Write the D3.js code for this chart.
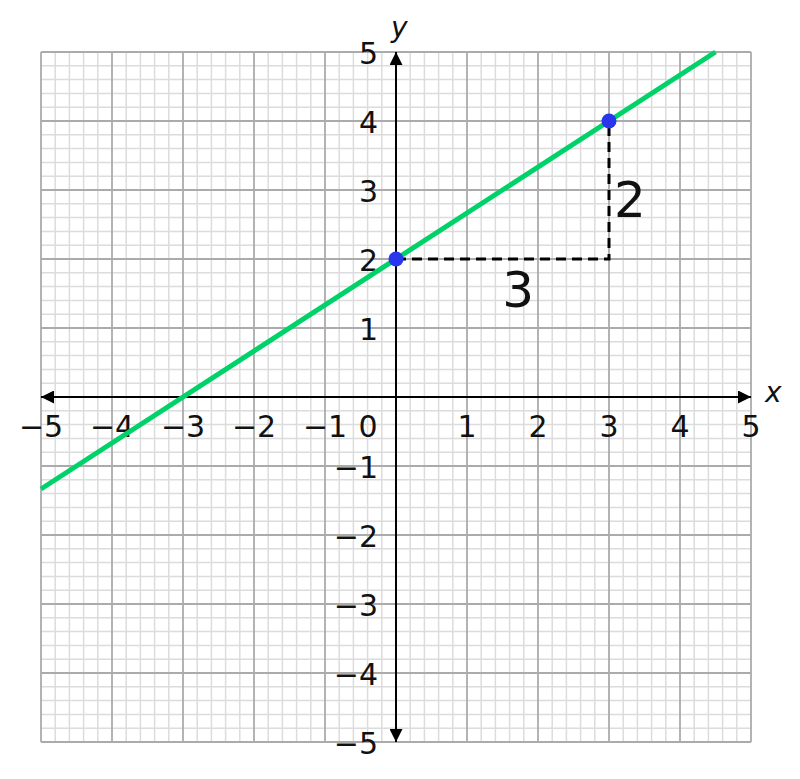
<!DOCTYPE html>
<html>
<head>
<meta charset="utf-8">
<script src="https://cdn.jsdelivr.net/npm/d3@7"></script>
<style>
  body { margin: 0; background: #fff; }
  text { font-family: "DejaVu Sans", sans-serif; fill: #111; }
</style>
</head>
<body>
<div id="chart"></div>
<script>
// tick values and labels
const xTicks = [-5, -4, -3, -2, -1, 1, 2, 3, 4, 5];
const yTicks = [-5, -4, -3, -2, -1, 1, 2, 3, 4, 5];
const minorSteps = [0.2, 0.4, 0.6, 0.8];

// the green line y = 2/3 x + 2, clipped to the grid
const lineEnds = [[-5, -1.333], [4.5, 5]];
// the two marked points
const points = [[0, 2], [3, 4]];
// rise / run triangle
const stepPath = [[0, 2], [3, 2], [3, 4]];
const runLabel = { x: 1.72, y: 1.3, text: "3" };
const riseLabel = { x: 3.07, y: 2.61, text: "2" };

const width = 800, height = 779;

const x = d3.scaleLinear().domain([-5, 5]).range([41, 751]);
const y = d3.scaleLinear().domain([-5, 5]).range([742, 52]);

const svg = d3.select("#chart").append("svg")
  .attr("width", width)
  .attr("height", height);

// minor grid
const minor = [];
d3.range(-5, 5).forEach(u => minorSteps.forEach(s => minor.push(u + s)));
const grid = svg.append("g");
grid.selectAll(".vminor").data(minor).enter().append("line")
  .attr("x1", d => x(d)).attr("x2", d => x(d))
  .attr("y1", y(5)).attr("y2", y(-5))
  .attr("stroke", "#dcdcdc").attr("stroke-width", 1.5);
grid.selectAll(".hminor").data(minor).enter().append("line")
  .attr("y1", d => y(d)).attr("y2", d => y(d))
  .attr("x1", x(-5)).attr("x2", x(5))
  .attr("stroke", "#dcdcdc").attr("stroke-width", 1.5);

// major grid
const major = d3.range(-5, 6);
grid.selectAll(".vmajor").data(major).enter().append("line")
  .attr("x1", d => x(d)).attr("x2", d => x(d))
  .attr("y1", y(5)).attr("y2", y(-5))
  .attr("stroke", "#ababab").attr("stroke-width", 1.8);
grid.selectAll(".hmajor").data(major).enter().append("line")
  .attr("y1", d => y(d)).attr("y2", d => y(d))
  .attr("x1", x(-5)).attr("x2", x(5))
  .attr("stroke", "#ababab").attr("stroke-width", 1.8);

// arrow marker
const defs = svg.append("defs");
defs.append("marker")
  .attr("id", "arrow")
  .attr("viewBox", "0 0 10 10")
  .attr("refX", 10).attr("refY", 5)
  .attr("markerWidth", 13).attr("markerHeight", 13)
  .attr("markerUnits", "userSpaceOnUse")
  .attr("orient", "auto-start-reverse")
  .append("path")
  .attr("d", "M0,0 L10,5 L0,10 Z")
  .attr("fill", "#000");

// axes
svg.append("line")
  .attr("x1", x(-5)).attr("x2", x(5))
  .attr("y1", y(0)).attr("y2", y(0))
  .attr("stroke", "#000").attr("stroke-width", 2)
  .attr("marker-start", "url(#arrow)")
  .attr("marker-end", "url(#arrow)");
svg.append("line")
  .attr("x1", x(0)).attr("x2", x(0))
  .attr("y1", y(-5)).attr("y2", y(5))
  .attr("stroke", "#000").attr("stroke-width", 2)
  .attr("marker-start", "url(#arrow)")
  .attr("marker-end", "url(#arrow)");

// tick labels
const fmt = d => d < 0 ? "\u2212" + Math.abs(d) : String(d);
svg.selectAll(".xlab").data(xTicks).enter().append("text")
  .attr("x", d => x(d))
  .attr("y", y(0) + 40)
  .attr("text-anchor", "middle")
  .style("font-size", "30px")
  .text(fmt);
svg.append("text")
  .attr("x", x(0) - 28).attr("y", y(0) + 40)
  .attr("text-anchor", "middle")
  .style("font-size", "30px")
  .text("0");
svg.selectAll(".ylab").data(yTicks).enter().append("text")
  .attr("x", x(0) - 18)
  .attr("y", d => y(d) + 11.5)
  .attr("text-anchor", "end")
  .style("font-size", "30px")
  .text(fmt);

// axis names
svg.append("text")
  .attr("x", x(5) + 14).attr("y", y(0) + 5)
  .style("font-size", "28px").style("font-style", "italic")
  .text("x");
svg.append("text")
  .attr("x", x(0) - 5).attr("y", 37)
  .style("font-size", "28px").style("font-style", "italic")
  .text("y");

// dashed rise/run
svg.append("path")
  .attr("d", d3.line().x(d => x(d[0])).y(d => y(d[1]))(stepPath))
  .attr("fill", "none")
  .attr("stroke", "#000")
  .attr("stroke-width", 3)
  .attr("stroke-dasharray", "10,6");

// green line
svg.append("line")
  .attr("x1", x(lineEnds[0][0])).attr("y1", y(lineEnds[0][1]))
  .attr("x2", x(lineEnds[1][0])).attr("y2", y(lineEnds[1][1]))
  .attr("stroke", "#00d26a").attr("stroke-width", 5);

// points
svg.selectAll(".pt").data(points).enter().append("circle")
  .attr("cx", d => x(d[0])).attr("cy", d => y(d[1]))
  .attr("r", 7.5)
  .attr("fill", "#2a35ee");

// rise/run labels
[runLabel, riseLabel].forEach(l => {
  svg.append("text")
    .attr("x", x(l.x)).attr("y", y(l.y))
    .attr("text-anchor", l === runLabel ? "middle" : "start")
    .style("font-size", "50px")
    .text(l.text);
});
</script>
</body>
</html>
